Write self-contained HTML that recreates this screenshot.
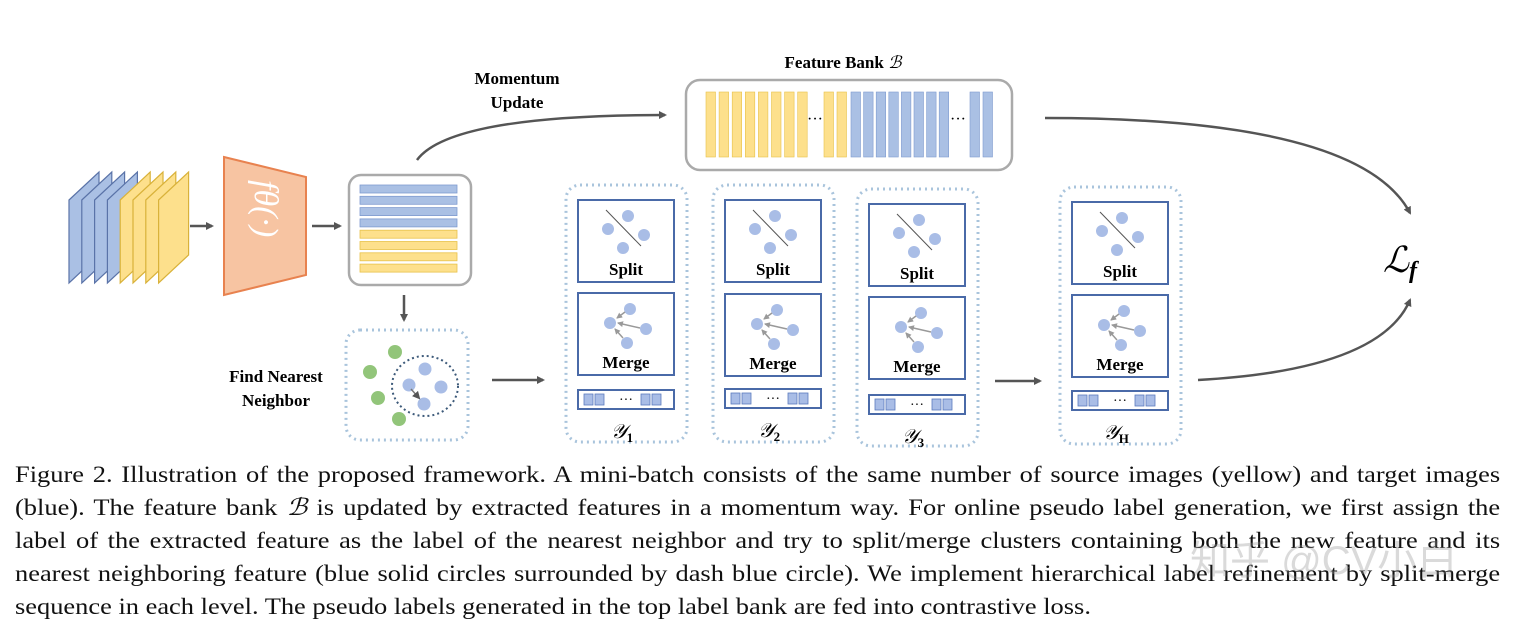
<!DOCTYPE html>
<html><head><meta charset="utf-8"><style>
body{margin:0;background:#fff;width:1525px;height:630px;overflow:hidden;position:relative;font-family:"Liberation Serif",serif}
.cap{position:absolute;left:15px;width:1326px;font-size:23.6px;line-height:33px;top:459px;color:#111;transform:scaleX(1.12);transform-origin:0 0}
.cap div{height:33px;white-space:nowrap;text-align:justify;text-align-last:justify}
.wm{position:absolute;left:1190px;top:528px;font-size:40px;color:rgba(150,150,150,0.35);font-family:"Liberation Sans","Noto Sans CJK SC",sans-serif}
</style></head><body>
<svg id="s" width="1525" height="460" style="position:absolute;left:0;top:0" font-family="Liberation Serif,serif">
<defs><marker id="a" markerWidth="8" markerHeight="8" refX="6" refY="4" orient="auto" markerUnits="userSpaceOnUse"><path d="M0,0 L8,4 L0,8z" fill="#555"/></marker>
<marker id="m" markerWidth="6" markerHeight="6" refX="5" refY="3" orient="auto" markerUnits="userSpaceOnUse"><path d="M0,0 L6,3 L0,6z" fill="#999"/></marker></defs>
<g id="g"></g>
<text x="517" y="84" font-size="17" font-weight="bold" text-anchor="middle">Momentum</text>
<text x="517" y="108" font-size="17" font-weight="bold" text-anchor="middle">Update</text>
<text x="843" y="68" font-size="17" font-weight="bold" text-anchor="middle">Feature Bank <tspan font-style="italic" font-weight="normal">ℬ</tspan></text>
<text x="276" y="382" font-size="17" font-weight="bold" text-anchor="middle">Find Nearest</text>
<text x="276" y="406" font-size="17" font-weight="bold" text-anchor="middle">Neighbor</text>
<text x="1383" y="272" font-size="36" font-style="italic">ℒ<tspan font-size="24" dy="6" font-weight="bold">f</tspan></text>
</svg>
<div class="cap">
<div>Figure 2. Illustration of the proposed framework. A mini-batch consists of the same number of source images (yellow) and target images</div>
<div>(blue). The feature bank <i>ℬ</i> is updated by extracted features in a momentum way. For online pseudo label generation, we first assign the</div>
<div>label of the extracted feature as the label of the nearest neighbor and try to split/merge clusters containing both the new feature and its</div>
<div>nearest neighboring feature (blue solid circles surrounded by dash blue circle). We implement hierarchical label refinement by split-merge</div>
<div style="text-align-last:left">sequence in each level. The pseudo labels generated in the top label bank are fed into contrastive loss.</div>
</div>
<div class="wm">知乎 @CV小白</div>
<script>
let h='';const Y='#fde08c',YS='#e8c24a',B='#aac0e4',BS='#7f9bcf',C='#a9bde6';
for(let i=0;i<8;i++){let x=69+i*12.8,f=i<4?B:Y,s=i<4?'#5a73a8':'#d9b23a';
h+=`<polygon points="${x},200 ${x+30},172 ${x+30},255 ${x},283" fill="${f}" stroke="${s}" stroke-width="1.2"/>`;}
h+=`<polygon points="224,157 306,177 306,275 224,295" fill="#f7c4a2" stroke="#e8824f" stroke-width="2"/>`;
h+=`<text x="0" y="0" font-size="34" font-style="italic" fill="#fff" transform="translate(255,180) rotate(90)">fθ(·)</text>`;
h+=`<rect x="349" y="175" width="122" height="110" rx="12" fill="#fff" stroke="#aaa" stroke-width="2.5"/>`;
for(let i=0;i<8;i++){let y=185+i*11.3;h+=`<rect x="360" y="${y}" width="97" height="8" fill="${i<4?B:Y}" stroke="${i<4?BS:YS}" stroke-width="0.8"/>`;}
h+=`<rect x="346" y="330" width="122" height="110" rx="14" fill="none" stroke="#a9c4dc" stroke-width="3" stroke-dasharray="2,4"/>`;
[[395,352],[370,372],[378,398],[399,419]].forEach(p=>h+=`<circle cx="${p[0]}" cy="${p[1]}" r="7" fill="#92c57a"/>`);
h+=`<ellipse cx="425" cy="386" rx="33" ry="30" fill="none" stroke="#3d5a7a" stroke-width="2" stroke-dasharray="2,3"/>`;
[[425,369],[409,385],[441,387],[424,404]].forEach(p=>h+=`<circle cx="${p[0]}" cy="${p[1]}" r="6.5" fill="${C}"/>`);
h+=`<line x1="411" y1="389" x2="419" y2="398" stroke="#777" stroke-width="1.5" marker-end="url(#a)"/>`;
h+=`<rect x="686" y="80" width="326" height="90" rx="14" fill="#fff" stroke="#aaa" stroke-width="2.5"/>`;
let bx=[];for(let i=0;i<8;i++)bx.push([706+i*13.1,Y]);bx.push([824,Y],[837,Y]);for(let i=0;i<8;i++)bx.push([851+i*12.6,B]);bx.push([970,B],[983,B]);
bx.forEach(b=>h+=`<rect x="${b[0]}" y="92" width="9.5" height="65" fill="${b[1]}" stroke="${b[1]==Y?YS:BS}" stroke-width="0.6"/>`);
h+=`<text x="807" y="124" font-size="16">···</text><text x="950" y="124" font-size="16">···</text>`;
const cols=[[566,200,293,390,'1'],[713,200,294,389,'2'],[857,204,297,395,'3'],[1060,202,295,391,'H']];
cols.forEach(c=>{let x=c[0];
h+=`<rect x="${x}" y="${c[1]-15}" width="121" height="257" rx="14" fill="none" stroke="#a9c4dc" stroke-width="3" stroke-dasharray="2,4"/>`;
let sx=x+12;
h+=`<rect x="${sx}" y="${c[1]}" width="96" height="82" fill="#fff" stroke="#4a6aa8" stroke-width="2"/>`;
h+=`<line x1="${sx+28}" y1="${c[1]+10}" x2="${sx+63}" y2="${c[1]+46}" stroke="#555" stroke-width="1"/>`;
[[sx+50,c[1]+16],[sx+30,c[1]+29],[sx+66,c[1]+35],[sx+45,c[1]+48]].forEach(p=>h+=`<circle cx="${p[0]}" cy="${p[1]}" r="6" fill="${C}"/>`);
h+=`<text x="${sx+48}" y="${c[1]+75}" font-size="17" font-weight="bold" text-anchor="middle">Split</text>`;
let my=c[2];
h+=`<rect x="${sx}" y="${my}" width="96" height="82" fill="#fff" stroke="#4a6aa8" stroke-width="2"/>`;
[[sx+52,my+16],[sx+32,my+30],[sx+68,my+36],[sx+49,my+50]].forEach(p=>h+=`<circle cx="${p[0]}" cy="${p[1]}" r="6" fill="${C}"/>`);
h+=`<line x1="${sx+47}" y1="${my+19}" x2="${sx+39}" y2="${my+25}" stroke="#999" stroke-width="1.5" marker-end="url(#m)"/><line x1="${sx+62}" y1="${my+35}" x2="${sx+40}" y2="${my+30}" stroke="#999" stroke-width="1.5" marker-end="url(#m)"/><line x1="${sx+45}" y1="${my+45}" x2="${sx+37}" y2="${my+36}" stroke="#999" stroke-width="1.5" marker-end="url(#m)"/>`;
h+=`<text x="${sx+48}" y="${my+75}" font-size="17" font-weight="bold" text-anchor="middle">Merge</text>`;
let by=c[3];
h+=`<rect x="${sx}" y="${by}" width="96" height="19" fill="#fff" stroke="#4a6aa8" stroke-width="2"/>`;
[6,17,63,74].forEach(o=>h+=`<rect x="${sx+o}" y="${by+4}" width="9" height="11" fill="${C}" stroke="#5b7bbf" stroke-width="0.8"/>`);
h+=`<text x="${sx+48}" y="${by+14}" font-size="14" text-anchor="middle">···</text>`;
h+=`<text x="${sx+44}" y="${by+48}" font-size="20" font-style="italic" text-anchor="middle">𝒴<tspan font-size="13" dy="4" font-weight="bold" font-style="normal">${c[4]}</tspan></text>`;
});
const A=(d)=>h+=`<path d="${d}" fill="none" stroke="#555" stroke-width="2.5" marker-end="url(#a)"/>`;
A('M190,226 L212,226');A('M312,226 L340,226');A('M404,295 L404,320');A('M492,380 L543,380');A('M995,381 L1040,381');
A('M417,160 Q450,115 665,115');A('M1045,118 Q1360,118 1410,213');A('M1198,380 Q1380,370 1410,300');
document.getElementById('g').innerHTML=h;
</script>
</body></html>
